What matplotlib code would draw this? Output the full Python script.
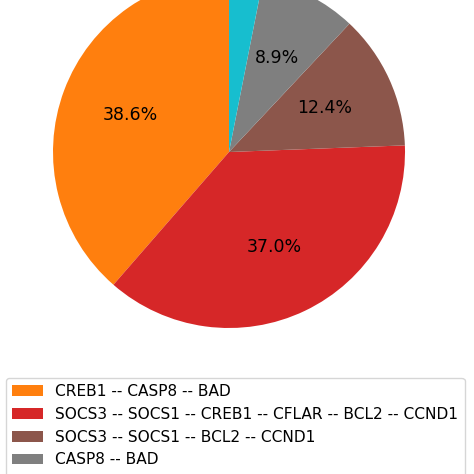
import matplotlib
matplotlib.use("Agg")
import matplotlib.pyplot as plt

labels = [
    "CREB1 -- CASP8 -- BAD",
    "SOCS3 -- SOCS1 -- CREB1 -- CFLAR -- BCL2 -- CCND1",
    "SOCS3 -- SOCS1 -- BCL2 -- CCND1",
    "CASP8 -- BAD",
    "CREB1 -- BAD",
]
values = [38.6, 37.0, 12.4, 8.9, 3.1]
colors = ["tab:orange", "tab:red", "tab:brown", "tab:gray", "tab:cyan"]

W = H = 474
fig = plt.figure(figsize=(4.74, 4.74), dpi=100)
cx, cy, r = 229, 474 - 152, 176
ax = fig.add_axes([(cx - r) / W, (cy - r) / H, 2 * r / W, 2 * r / H])

def fmt(p):
    return f"{p:.1f}%" if p >= 5 else ""

wedges, texts, autotexts = ax.pie(values, colors=colors, startangle=90,
                                  autopct=fmt, textprops={"fontsize": 12.5})
ax.set_xlim(-1, 1)
ax.set_ylim(-1, 1)
ax.set_aspect("equal")
ax.axis("off")

fig.legend(wedges, labels, loc="upper left", bbox_to_anchor=(6 / W, 96 / H),
           borderaxespad=0, fontsize=11.1, frameon=True)

fig.savefig("out.png", dpi=100)
